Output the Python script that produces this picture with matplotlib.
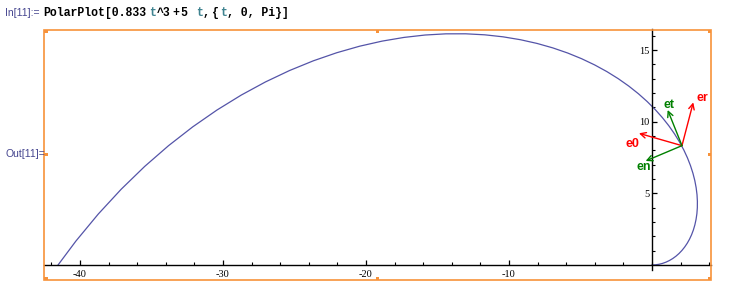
import numpy as np
import matplotlib
matplotlib.use("Agg")
import matplotlib.pyplot as plt
from matplotlib.patches import Rectangle

# PolarPlot[0.833 t^3 + 5 t, {t, 0, Pi}] -- angle t and radius r
t_vals = [0.00, 0.05, 0.10, 0.15, 0.20, 0.25, 0.30, 0.35, 0.40, 0.45,
          0.50, 0.55, 0.60, 0.65, 0.70, 0.75, 0.80, 0.85, 0.90, 0.95,
          1.00, 1.05, 1.10, 1.15, 1.20, 1.25, 1.30, 1.35, 1.40, 1.45,
          1.50, 1.55, 1.60, 1.65, 1.70, 1.75, 1.80, 1.85, 1.90, 1.95,
          2.00, 2.05, 2.10, 2.15, 2.20, 2.25, 2.30, 2.35, 2.40, 2.45,
          2.50, 2.55, 2.60, 2.65, 2.70, 2.75, 2.80, 2.85, 2.90, 2.95,
          3.00, 3.05, 3.10, 3.1416]
r_vals = [0.000, 0.250, 0.501, 0.753, 1.007, 1.263, 1.522, 1.786, 2.053, 2.326,
          2.604, 2.889, 3.180, 3.479, 3.786, 4.101, 4.426, 4.762, 5.107, 5.464,
          5.833, 6.214, 6.609, 7.017, 7.439, 7.877, 8.330, 8.799, 9.286, 9.790,
          10.311, 10.852, 11.412, 11.992, 12.593, 13.214, 13.858, 14.524, 15.214, 15.927,
          16.664, 17.426, 18.214, 19.029, 19.870, 20.738, 21.635, 22.561, 23.515, 24.500,
          25.516, 26.562, 27.641, 28.752, 29.896, 31.074, 32.286, 33.533, 34.816, 36.135,
          37.491, 38.884, 40.316, 41.536]

# local basis vectors drawn at one point of the curve
base_pt = (2.1, 8.33)
vec_names = ["er", "e0", "et", "en"]
vec_tips = [(2.89, 11.35), (-0.91, 9.19), (1.10, 10.82), (-0.44, 7.26)]
vec_label_pos = [(3.52, 11.63), (-1.38, 8.44), (1.19, 11.19), (-0.56, 6.82)]
vec_colors = ["#ff0000", "#ff0000", "#008000", "#008000"]

x_major = [-40, -30, -20, -10]
x_labels = ["-40", "-30", "-20", "-10"]
x_minor = [-42, -38, -36, -34, -32, -28, -26, -24, -22, -18, -16, -14, -12,
           -8, -6, -4, -2, 0, 2, 4]
y_major = [5, 10, 15]
y_labels = ["5", "10", "15"]
y_minor = [1, 2, 3, 4, 6, 7, 8, 9, 11, 12, 13, 14, 16]

W, H = 729, 297
fig = plt.figure(figsize=(W / 100, H / 100), dpi=100)
fig.patch.set_facecolor("white")

def fx(px):
    return px / W

def fy(py):
    return 1 - py / H

# plot area
ax_l, ax_r, ax_t, ax_b = 44.25, 711.0, 29.3, 270.0
ax = fig.add_axes([fx(ax_l), fy(ax_b), (ax_r - ax_l) / W, (ax_b - ax_t) / H])
ax.set_xlim(-42.5, 4.13)
ax.set_ylim(-0.35, 16.45)
ax.patch.set_alpha(0)

tt = np.array(t_vals)
rr = np.array(r_vals)
ax.plot(rr * np.cos(tt), rr * np.sin(tt), color=(0.33, 0.33, 0.66), lw=0.9)

for name, tip, lp, c in zip(vec_names, vec_tips, vec_label_pos, vec_colors):
    ax.annotate("", xy=tip, xytext=base_pt,
                arrowprops=dict(arrowstyle="->,head_length=0.4,head_width=0.2",
                                color=c, lw=1.0, shrinkA=0, shrinkB=0))
    ax.text(lp[0], lp[1], name, color=c, fontsize=9, fontweight="bold",
            family="Liberation Sans", ha="center", va="center")

for s in ["top", "right"]:
    ax.spines[s].set_visible(False)
ax.spines["left"].set_position(("data", 0))
ax.spines["bottom"].set_position(("data", 0))
ax.spines["left"].set_linewidth(1.0)
ax.spines["bottom"].set_linewidth(1.0)

ax.set_xticks(x_major)
ax.set_xticklabels(x_labels)
ax.set_xticks(x_minor, minor=True)
ax.set_yticks(y_major)
ax.set_yticklabels(y_labels)
ax.set_yticks(y_minor, minor=True)
ax.tick_params(axis="both", which="major", direction="in", length=3.5, width=0.9,
               labelsize=7.5, labelfontfamily="Liberation Serif")
ax.tick_params(axis="both", which="minor", direction="in", length=2, width=0.8)
ax.tick_params(axis="x", which="major", pad=3.5)
ax.tick_params(axis="y", which="major", pad=2)

# notebook cell labels and input line
cell_col = "#45458f"
fig.text(fx(5), fy(13), "In[11]:=", color=cell_col, fontsize=7.5,
         family="Liberation Sans", ha="left", va="center")
fig.text(fx(5), fy(154), "Out[11]=", color=cell_col, fontsize=7.5,
         family="Liberation Sans", ha="left", va="center")

teal = "#3f8390"
code_parts = [("PolarPlot[0.833", 43, "black"), ("t", 149, teal), ("^3", 157, "black"),
              ("+", 172, "black"), ("5", 180, "black"), ("t", 196, teal),
              (",", 203, "black"), ("{", 212, "black"), ("t", 220, teal),
              (", 0, Pi}]", 227, "black")]
for txt, px, c in code_parts:
    fig.text(fx(px), fy(13), txt, color=c, fontsize=8.3, fontweight="bold",
             family="Liberation Mono", ha="left", va="center")

# orange selection frame with handles
orange = "#f7923a"
fig.patches.append(Rectangle((fx(44), fy(280)), (711 - 44) / W, (280 - 29.5) / H,
                             transform=fig.transFigure, fill=False,
                             edgecolor=orange, lw=1.2))
hs = 3.5
for hx, hy in [(44, 29.5), (376, 29.5), (707.5, 29.5),
               (44, 152.5), (707.5, 152.5),
               (44, 276.5), (376, 276.5), (707.5, 276.5)]:
    fig.patches.append(Rectangle((fx(hx), fy(hy + hs)), hs / W, hs / H,
                                 transform=fig.transFigure, facecolor=orange,
                                 edgecolor="none"))

fig.savefig("out.png", dpi=100)
